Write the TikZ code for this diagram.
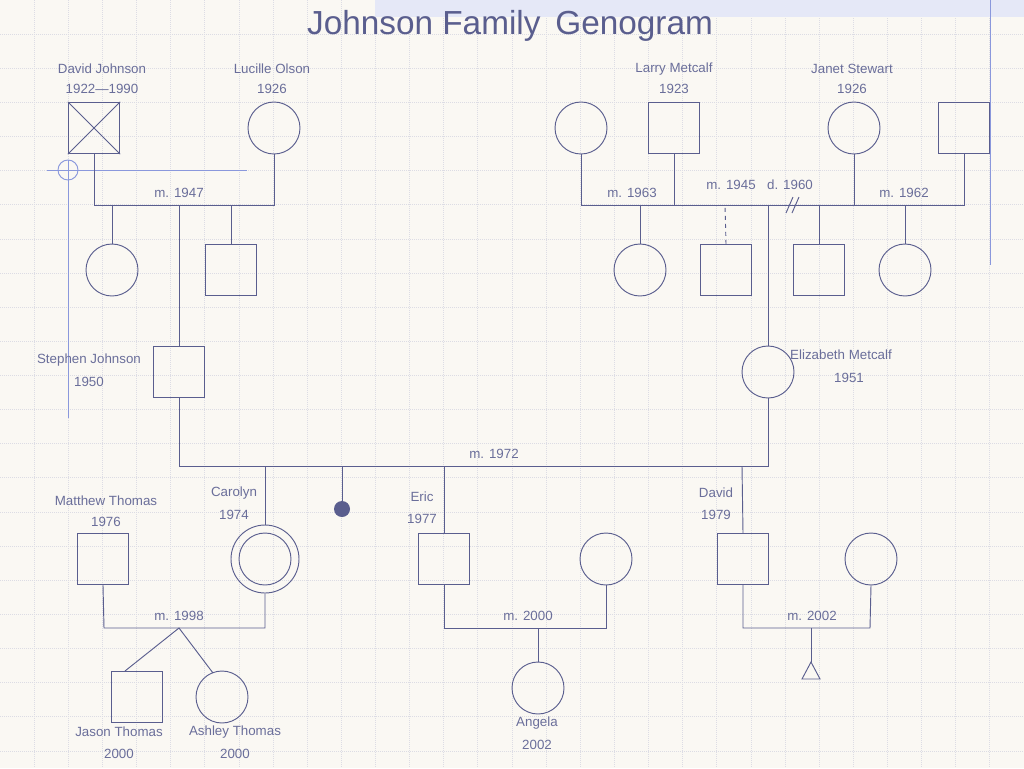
\documentclass[tikz,border=0pt]{standalone}
\usepackage{fontspec}
\setmainfont{Liberation Sans}
\begin{document}
\begin{tikzpicture}[x=0.75pt,y=-0.75pt,
  ln/.style={draw=lc,line width=0.7pt},
  sq/.style={ln,rectangle,minimum size=38.5pt,inner sep=0pt},
  ci/.style={ln,circle,minimum size=39pt,inner sep=0pt},
  lb/.style={text=tc,font=\fontsize{10}{12}\selectfont,inner sep=1pt},
  guide/.style={draw=gb,line width=0.7pt}]
\definecolor{lc}{HTML}{5A5E8E}
\definecolor{tc}{HTML}{6A6E9A}
\definecolor{gb}{HTML}{8A98DC}
\definecolor{bg}{HTML}{FAF8F3}
\definecolor{gr}{HTML}{DCDCE4}
\useasboundingbox (0,0) rectangle (1024,768);
\fill[bg] (0,0) rectangle (1024,768);
\foreach \i in {1,...,30} {
  \draw[gr,densely dotted,line width=0.5pt] (\i*34.13,0) -- (\i*34.13,768);
}
\foreach \i in {1,...,22} {
  \draw[gr,densely dotted,line width=0.5pt] (0,\i*34.13) -- (1024,\i*34.13);
}
\fill[fill=gb!22] (375,0) rectangle (1024,17);
\draw[guide] (990,0) -- (990,265);
\draw[guide] (47,170) -- (247,170);
\draw[guide] (68,160) -- (68,418);
\draw[guide] (68,170) circle[radius=7.5pt];
\node[text=lc,font=\fontsize{25}{28}\selectfont] (title) at (510,26) {Johnson Family\, Genogram};
% generation 1 left
\node[sq] (dj) at (94,128) {};
\draw[ln] (dj.north west) -- (dj.south east) (dj.north east) -- (dj.south west);
\node[lb] (djn) at (102,69) {David Johnson};
\node[lb] (djy) at (102,89) {1922—1990};
\node[ci] (lo) at (274,128) {};
\node[lb] (lon) at (272,69) {Lucille Olson};
\node[lb] (loy) at (272,89) {1926};
\coordinate (m1a) at (94,205); \coordinate (m1b) at (274,205);
\draw[ln] (dj.south) -- (m1a) -- (m1b) -- (lo.south);
\node[lb] (m1) at (179,193) {m. 1947};
\node[ci] (c1) at (112,270) {};
\node[sq] (c2) at (231,270) {};
\node[sq] (sj) at (179,372) {};
\draw[ln] (c1.north) -- (112,205) (c2.north) -- (231,205) (sj.north) -- (179,205);
\node[lb] (sjn) at (89,360) {Stephen Johnson};
\node[lb] (sjy) at (89,382) {1950};
% generation 1 right
\node[ci] (rw) at (581,128) {};
\node[sq] (lm) at (674,128) {};
\node[ci] (js) at (854,128) {};
\node[sq] (rh) at (964,128) {};
\node[lb] (lmn) at (674,69) {Larry Metcalf};
\node[lb] (lmy) at (674,89) {1923};
\node[lb] (jsn) at (852,69) {Janet Stewart};
\node[lb] (jsy) at (852,89) {1926};
\draw[ln] (rw.south) -- (581,205) -- (964,205) -- (rh.south);
\draw[ln] (lm.south) -- (674,205) (js.south) -- (854,205);
\node[lb] (m2) at (632,193) {m. 1963};
\node[lb] (m3) at (731,185) {m. 1945};
\node[lb] (d3) at (790,185) {d. 1960};
\node[lb] (m4) at (904,193) {m. 1962};
\draw[ln] (786,213) -- (793,197) (792,213) -- (799,197);
\node[ci] (r1) at (640,270) {};
\node[sq] (r2) at (726,270) {};
\node[sq] (r3) at (819,270) {};
\node[ci] (r4) at (905,270) {};
\draw[ln] (r1.north) -- (640,205) (r3.north) -- (819,205) (r4.north) -- (905,205);
\draw[ln,dashed] (r2.north) -- (725,205);
\node[ci] (em) at (768,372) {};
\draw[ln] (em.north) -- (768,205);
\node[lb] (emn) at (841,355) {Elizabeth Metcalf};
\node[lb] (emy) at (849,378) {1951};
% generation 2
\draw[ln] (sj.south) -- (179,466) -- (768,466) -- (em.south);
\node[lb] (m5) at (494,454) {m. 1972};
\node[ci,minimum size=51pt] (ca) at (265,559) {};
\node[ci] (cai) at (265,559) {};
\draw[ln] (ca.north) -- (265,466);
\node[lb] (can) at (234,493) {Carolyn};
\node[lb] (cay) at (234,515) {1974};
\node[circle,fill=lc,minimum size=12pt,inner sep=0pt] (mc) at (342,509) {};
\draw[ln] (mc.north) -- (342,466);
\node[sq] (er) at (444,559) {};
\draw[ln] (er.north) -- (444,466);
\node[lb] (ern) at (422,497) {Eric};
\node[lb] (ery) at (422,519) {1977};
\node[sq] (da) at (743,559) {};
\draw[ln] (da.north) -- (742,466);
\node[lb] (dan) at (716,493) {David};
\node[lb] (day) at (716,515) {1979};
\node[sq] (mt) at (103,559) {};
\node[lb] (mtn) at (106,501) {Matthew Thomas};
\node[lb] (mty) at (106,522) {1976};
\node[ci] (ew) at (606,559) {};
\node[ci] (dw) at (871,559) {};
% generation 3
\draw[ln] (mt.south) -- (104,628) -- (265,628) -- (ca.south);
\node[lb] (m6) at (179,616) {m. 1998};
\node[sq] (jt) at (137,697) {};
\node[ci] (at) at (222,697) {};
\draw[ln] (125,671) -- (179,628) -- (213,673);
\node[lb] (jtn) at (119,732) {Jason Thomas};
\node[lb] (jty) at (119,754) {2000};
\node[lb] (atn) at (235,732) {Ashley Thomas};
\node[lb] (aty) at (235,754) {2000};
\draw[ln] (er.south) -- (444,628) -- (606,628) -- (ew.south);
\node[lb] (m7) at (528,616) {m. 2000};
\node[ci] (an) at (538,688) {};
\draw[ln] (an.north) -- (538,628);
\node[lb] (ann) at (537,723) {Angela};
\node[lb] (any) at (537,745) {2002};
\draw[ln] (da.south) -- (743,628) -- (870,628) -- (dw.south);
\node[lb] (m8) at (812,616) {m. 2002};
\coordinate (tp) at (811,662);
\draw[ln] (tp) -- (811,628);
\draw[ln] (tp) -- (820,679) -- (802,679) -- cycle;
\end{tikzpicture}
\end{document}
